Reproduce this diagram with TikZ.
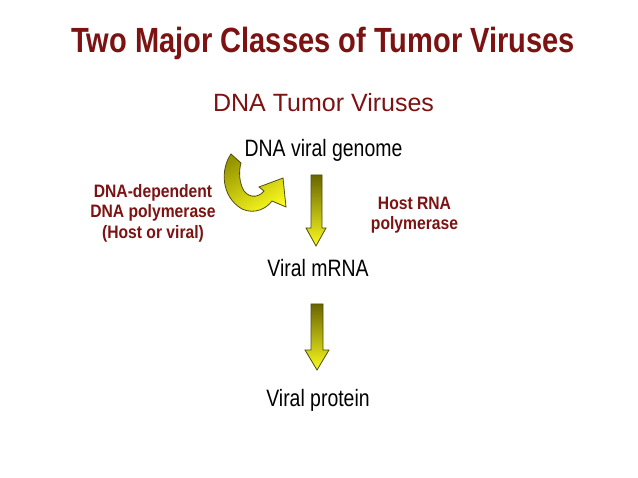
\documentclass[tikz,border=0pt]{standalone}
\usepackage{fontspec}
\setmainfont{Liberation Sans}
\newfontfamily\narrowfont[FakeStretch=0.82]{Liberation Sans}
\newfontfamily\titlefont[FakeStretch=0.83]{Liberation Sans}
\newfontfamily\labelfont[FakeStretch=0.87]{Liberation Sans}
\definecolor{maroon}{RGB}{125,18,18}
\definecolor{olivedark}{RGB}{105,102,0}
\definecolor{olivemid}{RGB}{150,148,0}
\definecolor{arrowyellow}{RGB}{250,250,30}
\definecolor{arrowedge}{RGB}{80,78,10}
\tikzset{
  titletext/.style={inner sep=0pt, anchor=base, text=maroon, font=\titlefont\bfseries\fontsize{35}{42}\selectfont},
  subtitletext/.style={inner sep=0pt, anchor=base, text=maroon, font=\fontsize{25}{30}\selectfont},
  bodytext/.style={inner sep=0pt, anchor=base, text=black, font=\narrowfont\fontsize{23.7}{28}\selectfont},
  labeltext/.style={inner sep=0pt, anchor=base, text=maroon, align=center, font=\labelfont\bfseries\fontsize{18}{20.7}\selectfont},
  yarrow/.style={draw=arrowedge, line width=0.8pt, line join=miter, top color=olivedark, bottom color=arrowyellow},
  curvearrow/.style={draw=arrowedge, line width=0.8pt, line join=miter, shading=axis, top color=olivemid, middle color=arrowyellow!90!olivemid, bottom color=arrowyellow, shading angle=30}
}
\begin{document}
\begin{tikzpicture}[x=1pt, y=-1pt]
\useasboundingbox[fill=white] (0,0) rectangle (638,478);

\node[titletext] (title) at (323,53) {Two Major Classes of Tumor Viruses};
\node[subtitletext] (subtitle) at (323.5,112) {DNA Tumor Viruses};

\node[bodytext] (genome) at (323.5,157) {DNA viral genome};
\node[bodytext] (mrna) at (318,277) {Viral mRNA};
\node[bodytext] (protein) at (318,407) {Viral protein};

% base anchor of a multi-line node is the baseline of its last line
\node[labeltext] (dnapol) at (153,238.5) {DNA-dependent\\DNA polymerase\\(Host or viral)};
\node[labeltext] (rnapol) at (414.5,230) {Host RNA\\polymerase};

% curved replication arrow
\path[curvearrow] (231,154) .. controls (221,168) and (220,196) .. (242,209)
  .. controls (255,215) and (267,208) .. (272,201)
  -- (286,207) -- (283,178) -- (259,187) -- (264,191)
  .. controls (258,199) and (246,198) .. (242,187)
  .. controls (239,179) and (239,170) .. (241,163) -- cycle;

% straight arrows
\path[yarrow] (311,175) -- (322,175) -- (322,228) -- (326,228) -- (316,246) -- (306,228) -- (311,228) -- cycle;
\path[yarrow] (311,304) -- (323,304) -- (323,350) -- (329,350) -- (317,370) -- (305,350) -- (311,350) -- cycle;
\end{tikzpicture}
\end{document}
